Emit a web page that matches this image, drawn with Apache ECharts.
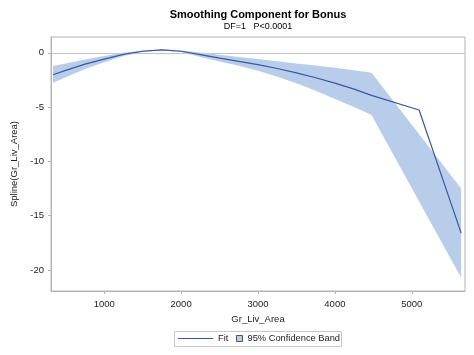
<!DOCTYPE html>
<html>
<head>
<meta charset="utf-8">
<script src="https://cdn.jsdelivr.net/npm/echarts@6/dist/echarts.min.js"></script>
<style>
html,body{margin:0;padding:0;background:#fff;}
#chart{width:474px;height:355px;}
</style>
</head>
<body>
<div id="chart"></div>
<script>
// Fit (spline component) evaluated along Gr_Liv_Area
const fitX = [334, 500, 750, 1000, 1250, 1500, 1750, 2000, 2250, 2500, 2750, 3000, 3250, 3500, 3750, 4000, 4250, 4476, 5095, 5642];
const fitY = [-2.02, -1.62, -1.05, -0.58, -0.15, 0.14, 0.26, 0.14, -0.18, -0.5, -0.8, -1.1, -1.45, -1.85, -2.3, -2.8, -3.35, -3.92, -5.27, -16.6];

// 95% confidence band
const bandX = [334, 500, 750, 1000, 1250, 1500, 1750, 2000, 2250, 2500, 2750, 3000, 3250, 3500, 3750, 4000, 4250, 4476, 5642];
const bandUpper = [-1.22, -1.0, -0.62, -0.3, 0.0, 0.2, 0.3, 0.2, 0.02, -0.18, -0.38, -0.58, -0.78, -0.98, -1.18, -1.38, -1.6, -1.85, -12.5];
const bandLower = [-2.76, -2.25, -1.5, -0.88, -0.3, 0.06, 0.2, 0.08, -0.4, -0.8, -1.2, -1.65, -2.2, -2.8, -3.5, -4.25, -5.0, -5.73, -20.7];

const xTicks = [1000, 2000, 3000, 4000, 5000];
const yTicks = [-20, -15, -10, -5, 0];

const FONT = '"Liberation Sans", Arial, sans-serif';
const GRAY = '#b4b4b4';
const TXT = '#222';
const FIT_COLOR = '#3a56a4';
const BAND_COLOR = '#b8cde9';

const chart = echarts.init(document.getElementById('chart'), null, {renderer: 'canvas'});

const bandData = bandX.map((x, i) => [x, bandLower[i], bandUpper[i]]);

chart.setOption({
  animation: false,
  backgroundColor: '#fff',
  textStyle: {fontFamily: FONT},
  title: {
    text: 'Smoothing Component for Bonus',
    subtext: 'DF=1   P<0.0001',
    left: 258,
    textAlign: 'center',
    top: 9,
    itemGap: 2,
    padding: 0,
    textStyle: {fontFamily: FONT, fontSize: 11, fontWeight: 'bold', color: '#000'},
    subtextStyle: {fontFamily: FONT, fontSize: 9, color: '#000'}
  },
  grid: {
    left: 51, right: 9, top: 37, bottom: 64,
    containLabel: false,
    outerBoundsMode: 'none',
    show: true,
    borderColor: GRAY,
    borderWidth: 1,
    backgroundColor: 'transparent'
  },
  xAxis: {
    type: 'value',
    min: 308, max: 5692,
    name: 'Gr_Liv_Area',
    nameLocation: 'middle',
    nameGap: 23,
    nameTextStyle: {fontFamily: FONT, fontSize: 9.5, color: TXT},
    axisLine: {show: true, onZero: false, lineStyle: {color: GRAY, width: 1}},
    axisTick: {show: true, length: 3, lineStyle: {color: GRAY}, customValues: xTicks},
    axisLabel: {fontFamily: FONT, fontSize: 9.5, color: TXT, margin: 8, customValues: xTicks, formatter: v => String(v)},
    splitLine: {show: false}
  },
  yAxis: {
    type: 'value',
    min: -21.93, max: 1.45,
    name: 'Spline(Gr_Liv_Area)',
    nameLocation: 'middle',
    nameGap: 31,
    nameRotate: 90,
    nameTextStyle: {fontFamily: FONT, fontSize: 9.5, color: TXT},
    axisLine: {show: true, onZero: false, lineStyle: {color: GRAY, width: 1}},
    axisTick: {show: true, length: 3, lineStyle: {color: GRAY}, customValues: yTicks},
    axisLabel: {fontFamily: FONT, fontSize: 9.5, color: TXT, margin: 7, customValues: yTicks, formatter: v => String(v)},
    splitLine: {show: false}
  },
  legend: [
    {
      data: [{name: 'Fit', icon: 'rect', itemStyle: {color: FIT_COLOR}}],
      left: 178, top: 334,
      padding: 0,
      itemWidth: 35, itemHeight: 1.2,
      itemGap: 0,
      selectedMode: false,
      textStyle: {fontFamily: FONT, fontSize: 9.3, color: TXT}
    },
    {
      data: [{name: '95% Confidence Band', icon: 'rect', itemStyle: {color: BAND_COLOR, borderColor: '#555', borderWidth: 1}}],
      left: 236, top: 334,
      padding: 0,
      itemWidth: 6, itemHeight: 6,
      selectedMode: false,
      textStyle: {fontFamily: FONT, fontSize: 9.3, color: TXT}
    }
  ],
  graphic: [
    {type: 'rect', shape: {x: 174.5, y: 331.5, width: 167, height: 15}, style: {fill: 'none', stroke: '#c8c8c8', lineWidth: 1}, silent: true}
  ],
  series: [
    {
      name: '95% Confidence Band',
      type: 'custom',
      silent: true,
      itemStyle: {color: BAND_COLOR},
      data: bandData,
      encode: {x: 0, y: [1, 2]},
      renderItem: function (params, api) {
        if (params.dataIndex !== 0) return null;
        const pts = [];
        for (let i = 0; i < bandData.length; i++) pts.push(api.coord([bandData[i][0], bandData[i][2]]));
        for (let i = bandData.length - 1; i >= 0; i--) pts.push(api.coord([bandData[i][0], bandData[i][1]]));
        return {type: 'polygon', shape: {points: pts}, style: {fill: BAND_COLOR, stroke: 'none'}};
      },
      z: 2,
      markLine: {
        silent: true,
        symbol: 'none',
        label: {show: false},
        lineStyle: {color: '#c4c4c4', type: 'solid', width: 1},
        data: [{yAxis: 0}],
        z: 1
      }
    },
    {
      name: 'Fit',
      type: 'line',
      symbol: 'none',
      showSymbol: false,
      smooth: false,
      itemStyle: {color: FIT_COLOR},
      lineStyle: {color: FIT_COLOR, width: 1.2},
      data: fitX.map((x, i) => [x, fitY[i]]),
      z: 3
    }
  ]
});
</script>
</body>
</html>
